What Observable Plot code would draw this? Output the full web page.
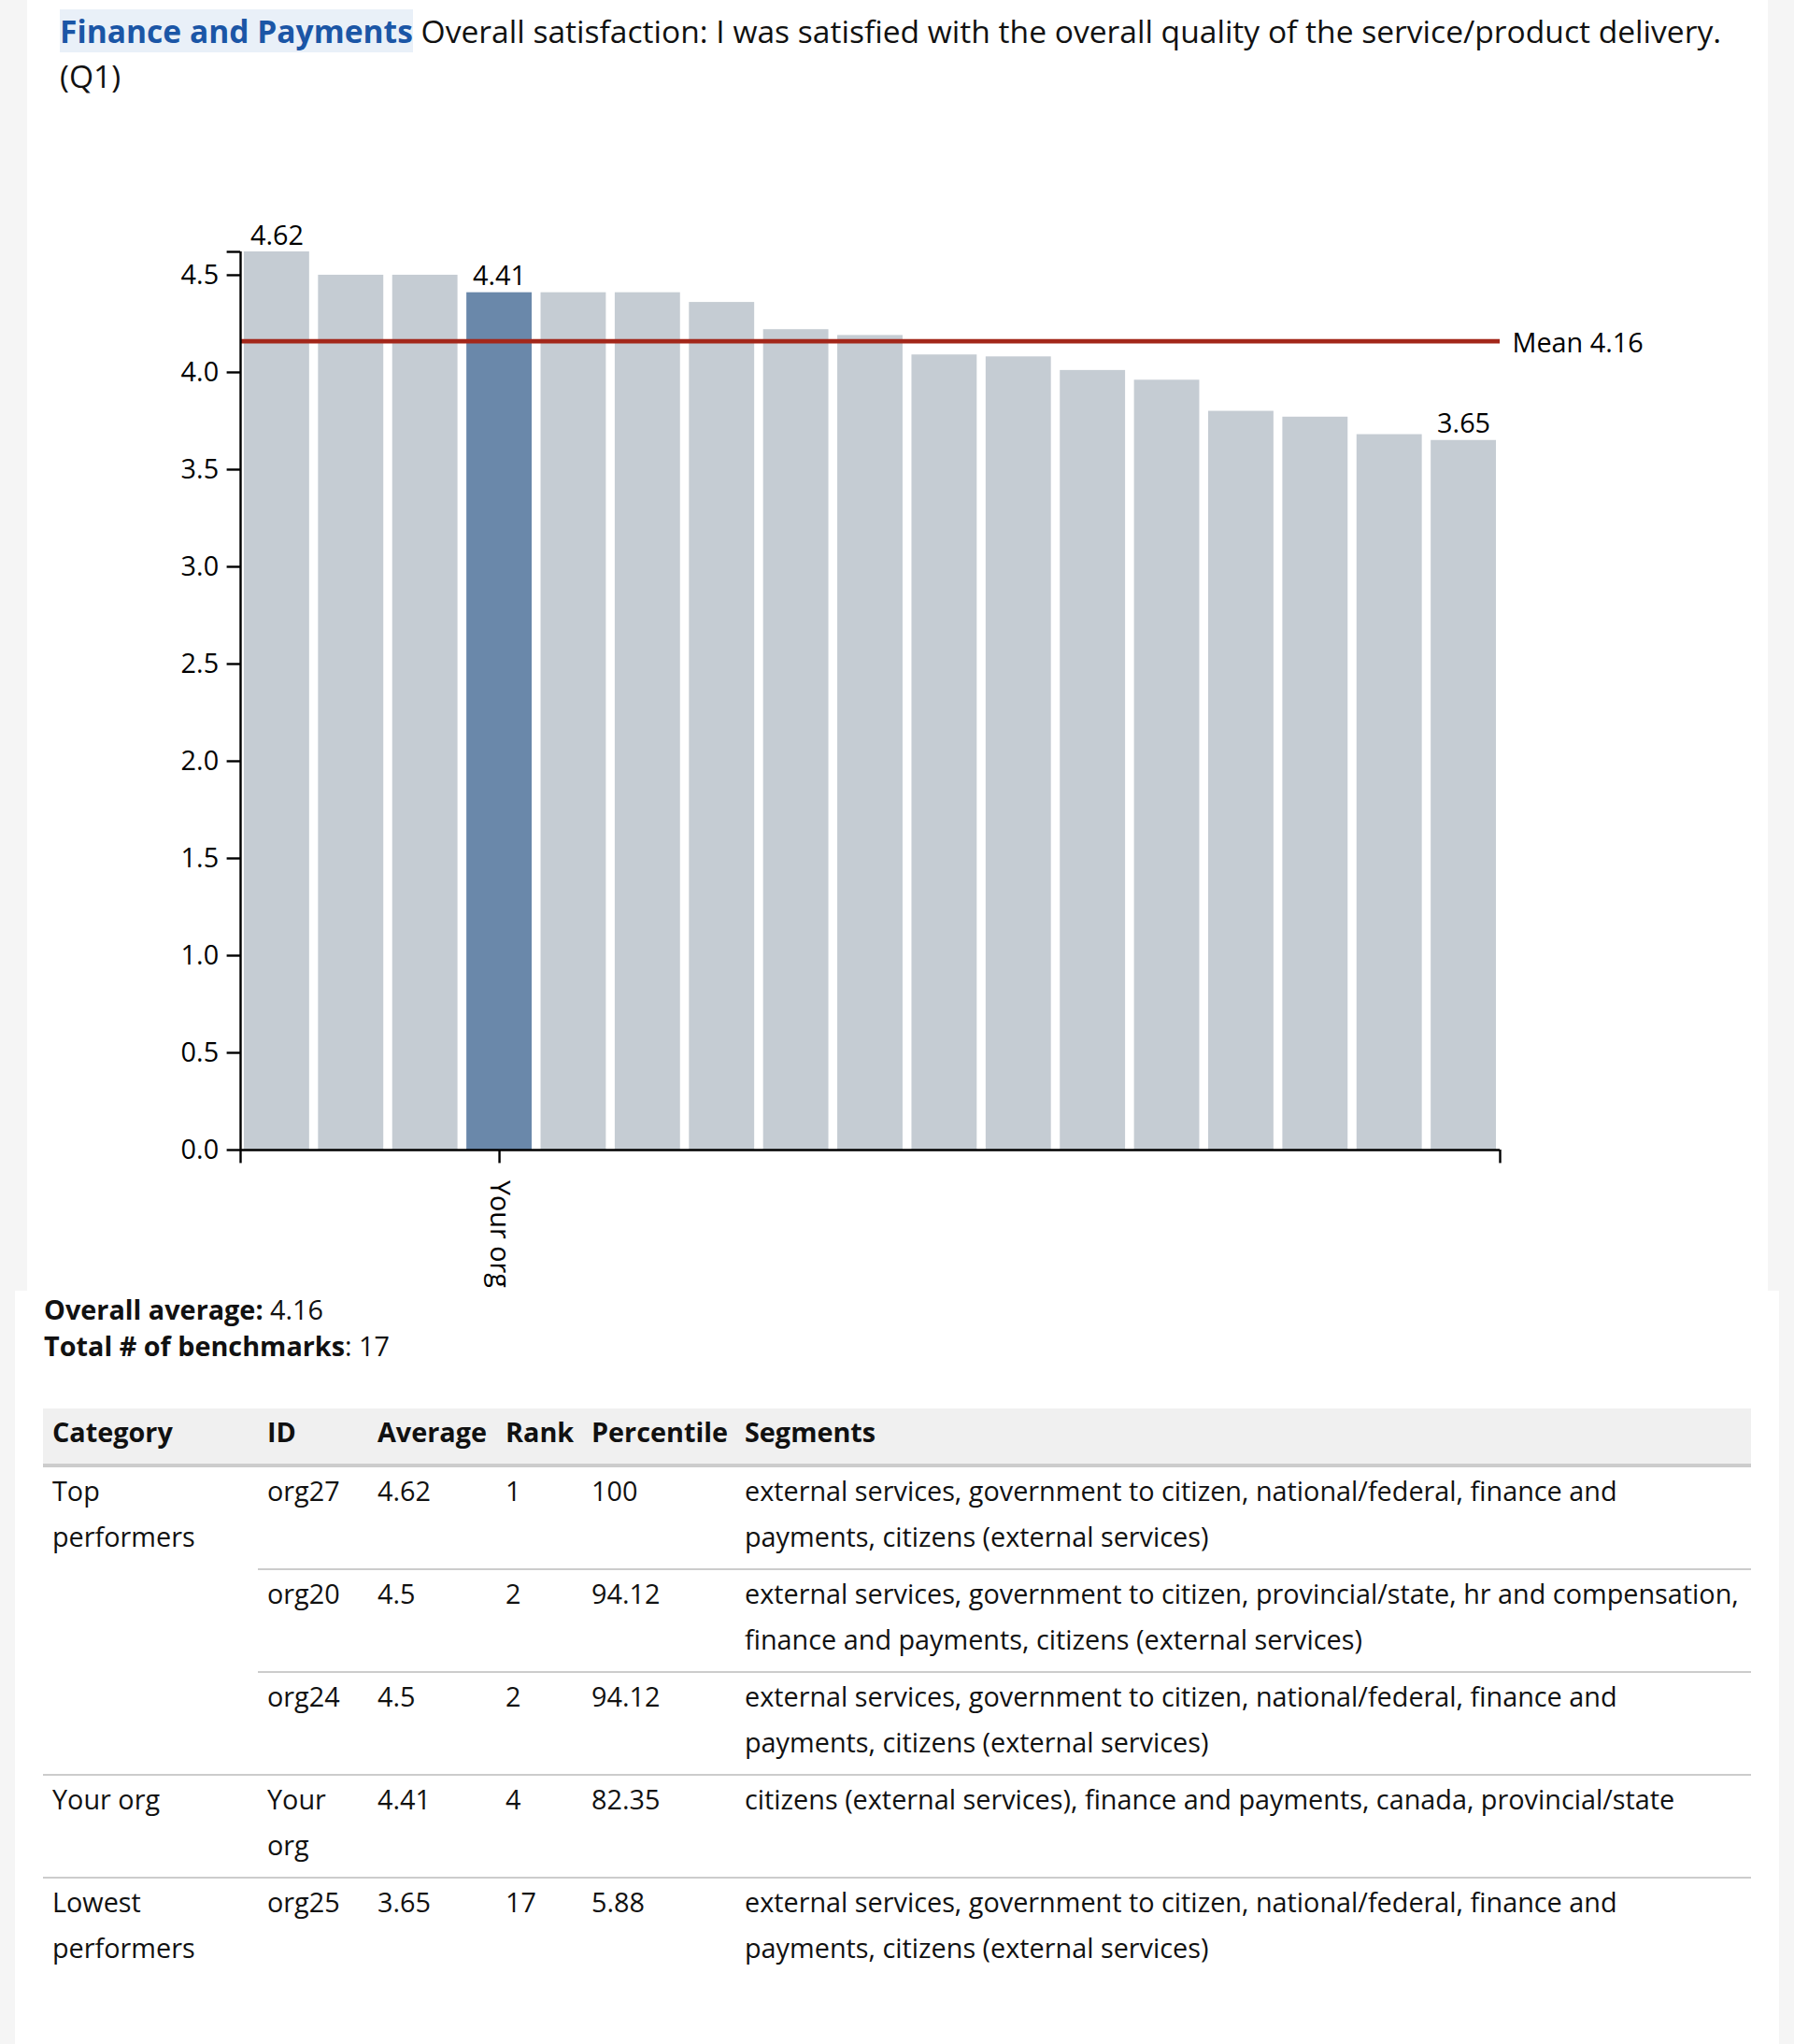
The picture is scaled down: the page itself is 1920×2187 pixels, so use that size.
<!DOCTYPE html>
<html>
<head>
<meta charset="utf-8">
<script src="https://cdn.jsdelivr.net/npm/d3@7"></script>
<script src="https://cdn.jsdelivr.net/npm/@observablehq/plot@0.6"></script>
<style>
  html, body { margin: 0; padding: 0; background: #f5f5f5; font-family: "Open Sans", sans-serif; color: #111; }
  #top { position: relative; margin-left: 29px; width: 1863px; height: 1381px; background: #fff; }
  #title { position: absolute; left: 35px; top: 9px; width: 1812px; font-size: 33.6px; line-height: 48px; }
  #title .tag { background: #e9f0f8; color: #1b56a6; font-weight: 700; }
  #chart { position: absolute; left: 0; top: 130px; }
  #chart svg { overflow: visible; }
  #bottom { margin-left: 16px; width: 1888px; height: 806px; background: #fff; padding-left: 30px; box-sizing: border-box; }
  #summary { font-size: 28.8px; line-height: 39.3px; padding-left: 1px; }
  #summary b { font-weight: 700; }
  table { border-collapse: collapse; table-layout: fixed; width: 1828px; margin-top: 47px; font-size: 28.8px; line-height: 49px; }
  th { background: #f0f0f0; text-align: left; font-weight: 700; padding: 0 10px 10px 10px; border-bottom: 4px solid #cccccc; vertical-align: top; }
  td { padding: 0 10px 10px 10px; vertical-align: top; }
  td.sep { border-top: 2px solid #cccccc; }
  td.cat { padding-right: 20px; }
</style>
</head>
<body>
<div id="top">
  <div id="title"><span class="tag">Finance and Payments</span> Overall satisfaction: I was satisfied with the overall quality of the service/product delivery. (Q1)</div>
  <div id="chart"></div>
</div>
<div id="bottom">
  <div id="summary"></div>
  <table id="tbl"></table>
</div>
<script>
// ---- chart data ----
const ids = ["org27", "org20", "org24", "Your org", "bm05", "bm06", "bm07", "bm08", "bm09",
             "bm10", "bm11", "bm12", "bm13", "bm14", "bm15", "bm16", "org25"];
const scores = [4.62, 4.5, 4.5, 4.41, 4.41, 4.41, 4.36, 4.22, 4.19, 4.09, 4.08, 4.01, 3.96, 3.80, 3.77, 3.68, 3.65];
const highlightId = "Your org";
const labeledIds = ["org27", "Your org", "org25"];
const meanValue = 4.16;
const yMax = 4.62;
const yTicks = [0, 0.5, 1, 1.5, 2, 2.5, 3, 3.5, 4, 4.5];

// ---- summary / table data ----
const overallAverage = "4.16";
const totalBenchmarks = "17";
const tableHeaders = ["Category", "ID", "Average", "Rank", "Percentile", "Segments"];
const tableCategories = ["Top performers", "Top performers", "Top performers", "Your org", "Lowest performers"];
const tableIds = ["org27", "org20", "org24", "Your org", "org25"];
const tableAverages = ["4.62", "4.5", "4.5", "4.41", "3.65"];
const tableRanks = ["1", "2", "2", "4", "17"];
const tablePercentiles = ["100", "94.12", "94.12", "82.35", "5.88"];
const tableSegments = [
  "external services, government to citizen, national/federal, finance and payments, citizens (external services)",
  "external services, government to citizen, provincial/state, hr and compensation, finance and payments, citizens (external services)",
  "external services, government to citizen, national/federal, finance and payments, citizens (external services)",
  "citizens (external services), finance and payments, canada, provincial/state",
  "external services, government to citizen, national/federal, finance and payments, citizens (external services)"
];
const colWidths = [230, 118, 137, 92, 164, 1087];

// ---- chart ----
const data = ids.map((id, i) => ({id, value: scores[i]}));
const W = 1863, H = 1251, ML = 228, MR = 287, MT = 139, MB = 151;
const pIn = 0.12, pOut = 0.05;
const step = (W - ML - MR) / (ids.length - pIn + 2 * pOut);
const bw = step * (1 - pIn);
const edgeDx = pOut * step + bw / 2; // center of end band to range edge
const AX = 2.4, TS = 14.4, FS = 28.8;

const chart = Plot.plot({
  width: W, height: H,
  marginLeft: ML, marginRight: MR, marginTop: MT, marginBottom: MB,
  style: {fontFamily: "Open Sans", fontSize: FS + "px", color: "#000", background: "transparent", overflow: "visible"},
  x: {domain: ids, paddingInner: pIn, paddingOuter: pOut, round: false, axis: null},
  y: {domain: [0, yMax], axis: null},
  marks: [
    Plot.barY(data, {x: "id", y: "value", fill: d => d.id === highlightId ? "#6a88aa" : "#c5ccd3"}),
    Plot.ruleY([meanValue], {stroke: "#a3271a", strokeWidth: 4.8}),
    Plot.text([meanValue], {y: d => d, frameAnchor: "right", textAnchor: "start", dx: 13, dy: 3, text: d => `Mean ${d.toFixed(2)}`, fontSize: FS, fill: "#000"}),
    Plot.text(data.filter(d => labeledIds.includes(d.id)), {x: "id", y: "value", text: d => d.value.toFixed(2), lineAnchor: "bottom", dy: -8, fontSize: FS, fill: "#000"}),
    Plot.axisY({ticks: yTicks, tickFormat: d3.format(".1f"), tickSize: TS, tickPadding: 9, fontSize: FS, strokeWidth: AX, label: null}),
    Plot.axisY({ticks: [yMax], tickFormat: () => "", tickSize: TS, strokeWidth: AX, label: null}),
    Plot.ruleX([ids[0]], {x: d => d, y1: 0, y2: yMax, dx: -edgeDx, strokeWidth: AX}),
    Plot.ruleY([0], {strokeWidth: AX}),
    Plot.axisX({ticks: [highlightId], tickSize: TS, tickRotate: 90, tickPadding: 18, fontSize: FS, strokeWidth: AX, label: null}),
    Plot.axisX({ticks: [ids[0]], tickFormat: () => "", tickSize: TS, dx: -edgeDx, strokeWidth: AX, label: null}),
    Plot.axisX({ticks: [ids[ids.length - 1]], tickFormat: () => "", tickSize: TS, dx: edgeDx, strokeWidth: AX, label: null})
  ]
});
document.getElementById("chart").appendChild(chart);

// ---- summary ----
document.getElementById("summary").innerHTML =
  `<b>Overall average:</b> ${overallAverage}<br><b>Total # of benchmarks</b>: ${totalBenchmarks}`;

// ---- table ----
const tbl = document.getElementById("tbl");
const cg = document.createElement("colgroup");
colWidths.forEach(w => { const c = document.createElement("col"); c.style.width = w + "px"; cg.appendChild(c); });
tbl.appendChild(cg);
const thead = tbl.createTHead();
const hr = thead.insertRow();
tableHeaders.forEach(h => { const th = document.createElement("th"); th.textContent = h; hr.appendChild(th); });
const tbody = tbl.createTBody();
tableIds.forEach((id, i) => {
  const tr = tbody.insertRow();
  const newGroup = i === 0 || tableCategories[i] !== tableCategories[i - 1];
  const sep = i > 0;
  if (newGroup) {
    let span = 1;
    while (i + span < tableCategories.length && tableCategories[i + span] === tableCategories[i]) span++;
    const td = tr.insertCell();
    td.textContent = tableCategories[i];
    td.rowSpan = span;
    td.className = "cat" + (sep ? " sep" : "");
  }
  [id, tableAverages[i], tableRanks[i], tablePercentiles[i], tableSegments[i]].forEach(v => {
    const td = tr.insertCell();
    td.textContent = v;
    if (sep) td.classList.add("sep");
  });
});
</script>
</body>
</html>
